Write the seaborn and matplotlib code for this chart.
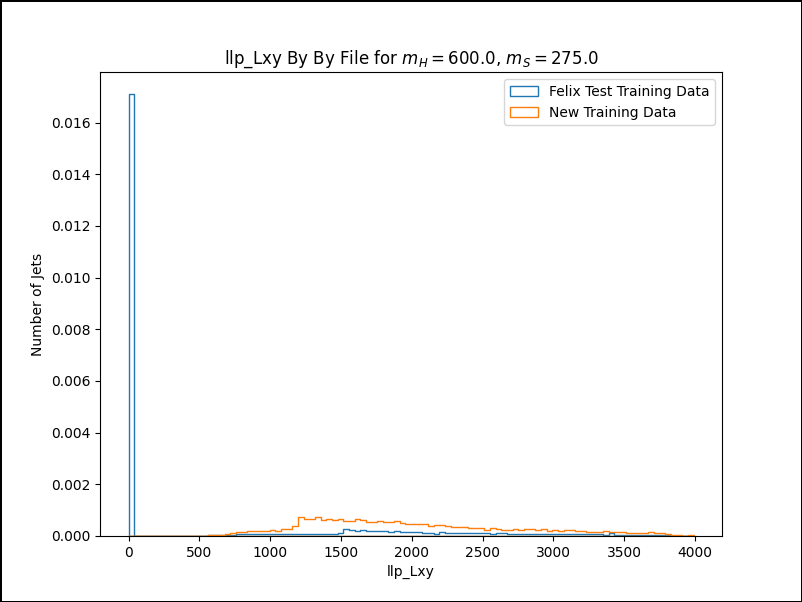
import numpy as np
import matplotlib
matplotlib.use("Agg")
import matplotlib.pyplot as plt
import seaborn as sns

# Bin edges (100 bins over the combined data range)
bin_edges = list(np.linspace(0.0, 3990.0, 101))

# Density per bin, Felix Test Training Data (10 bins per row)
felix_density = [
    0.0171, 0, 0, 0, 0, 0, 0, 0, 0, 0,
    0, 0, 0, 0, 0.00002, 0.00002, 0.00002, 0.00003, 0.00003, 0.00006,
    0.00006, 0.00006, 0.00007, 0.00006, 0.00007, 0.00006, 0.00007, 0.00006, 0.00007, 0.00006,
    0.00007, 0.00006, 0.00007, 0.00006, 0.00007, 0.00007, 0.00007, 0.00012, 0.00027, 0.00023,
    0.00020, 0.00022, 0.00020, 0.00020, 0.00020, 0.00020, 0.00016, 0.00018, 0.00016, 0.00016,
    0.00016, 0.00016, 0.00012, 0.00012, 0.00008, 0.00016, 0.00012, 0.00012, 0.00012, 0.00012,
    0.00012, 0.00012, 0.00012, 0.00012, 0.00008, 0.00012, 0.00012, 0.00008, 0.00008, 0.00008,
    0.00008, 0.00008, 0.00008, 0.00008, 0.00008, 0.00008, 0.00008, 0.00008, 0.00008, 0.00008,
    0.00008, 0.00008, 0.00008, 0.00008, 0.00004, 0.00009, 0.00003, 0.00003, 0.00003, 0.00003,
    0.00003, 0.00003, 0.00003, 0.00003, 0.00003, 0.00003, 0, 0, 0, 0,
]

# Density per bin, New Training Data (10 bins per row)
new_density = [
    0, 0, 0, 0, 0, 0, 0, 0, 0, 0,
    0, 0, 0, 0, 0.00002, 0.00003, 0.00004, 0.00008, 0.00012, 0.00014,
    0.00015, 0.00017, 0.00018, 0.00020, 0.00020, 0.00023, 0.00019, 0.00026, 0.00026, 0.00036,
    0.00074, 0.00065, 0.00065, 0.00074, 0.00062, 0.00065, 0.00063, 0.00065, 0.00058, 0.00058,
    0.00065, 0.00060, 0.00053, 0.00053, 0.00058, 0.00055, 0.00055, 0.00058, 0.00050, 0.00046,
    0.00045, 0.00044, 0.00044, 0.00036, 0.00040, 0.00040, 0.00038, 0.00033, 0.00035, 0.00035,
    0.00029, 0.00031, 0.00031, 0.00023, 0.00029, 0.00025, 0.00023, 0.00023, 0.00027, 0.00023,
    0.00027, 0.00025, 0.00023, 0.00027, 0.00020, 0.00023, 0.00020, 0.00023, 0.00021, 0.00019,
    0.00018, 0.00016, 0.00016, 0.00016, 0.00020, 0.00016, 0.00016, 0.00016, 0.00012, 0.00012,
    0.00012, 0.00012, 0.00016, 0.00012, 0.00012, 0.00006, 0.00003, 0.00003, 0.00001, 0.00003,
]

labels = ["Felix Test Training Data", "New Training Data"]
colors = ["#1f77b4", "#ff7f0e"]

edges_arr = np.array(bin_edges)
bin_centers = 0.5 * (edges_arr[:-1] + edges_arr[1:])

fig = plt.figure(figsize=(8.02, 6.02), dpi=100)
fig.patch.set_edgecolor("black")
fig.patch.set_linewidth(2)
ax = fig.add_subplot(111)

for dens, lab, col in zip([felix_density, new_density], labels, colors):
    sns.histplot(x=bin_centers, weights=np.array(dens, dtype=float), bins=bin_edges,
                 stat="count", element="step", fill=True, color=col,
                 facecolor="none", edgecolor=col, linewidth=1.0,
                 label=lab, ax=ax)

ax.set_title(r"llp_Lxy By By File for $m_H = 600.0$, $m_S = 275.0$")
ax.set_xlabel("llp_Lxy")
ax.set_ylabel("Number of Jets")
ax.legend(loc="upper right")

fig.savefig("out.png", dpi=100, edgecolor=fig.get_edgecolor())
